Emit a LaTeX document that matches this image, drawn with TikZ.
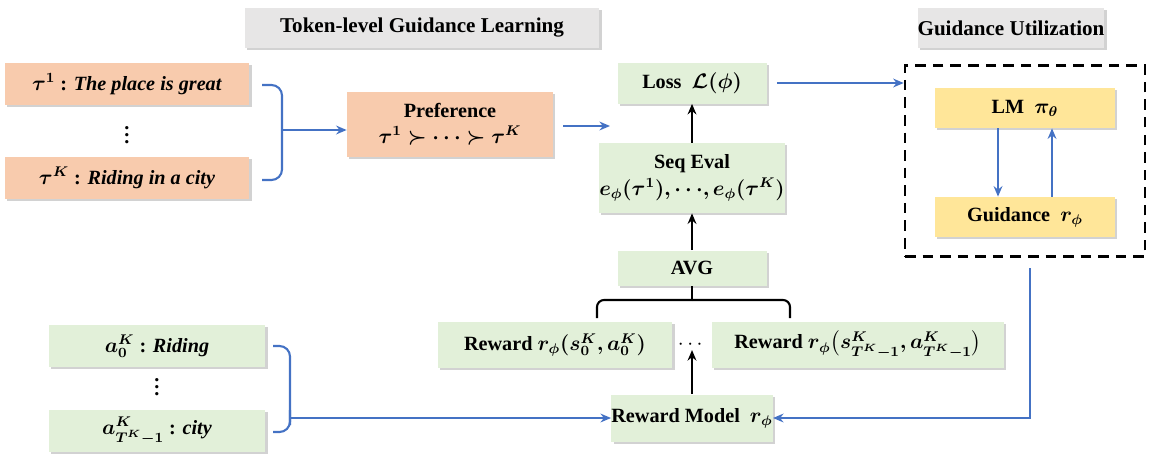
\documentclass[tikz,border=0pt]{standalone}
\usepackage{amsmath}
\usepackage{bm}
\usepackage{fontspec}
\setmainfont{Liberation Serif}
\usetikzlibrary{shadows,arrows.meta}
\definecolor{org}{HTML}{F8CBAD}
\definecolor{grn}{HTML}{E2F0D9}
\definecolor{ylw}{HTML}{FFE699}
\definecolor{gry}{HTML}{E7E6E6}
\definecolor{blu}{HTML}{4472C4}
\begin{document}
\begin{tikzpicture}[x=0.02cm,y=-0.02cm,
  every node/.style={font=\fontsize{11.5}{13}\selectfont\bfseries, inner sep=0pt, align=center},
  box/.style={draw=none, drop shadow={fill=black!35,shadow xshift=1.2pt,shadow yshift=-1.2pt}},
  ob/.style={box, fill=org},
  gb/.style={box, fill=grn},
  yb/.style={box, fill=ylw},
  tb/.style={box, fill=gry, font=\fontsize{12}{14}\selectfont\bfseries},
  bl/.style={blu, line width=1.2pt},
  ba/.style={bl, -{Stealth[length=6pt,width=5pt]}},
  ka/.style={black, line width=1.2pt, -{Stealth[length=6pt,width=5pt]}}]
\useasboundingbox (0,0) rectangle (1151,467);
\node[tb, minimum width=7.1cm, minimum height=0.8cm] (t1) at (422,28) {Token-level Guidance Learning};
\node[tb, minimum width=3.6cm, minimum height=0.8cm] (t2) at (1011,28) {Guidance Utilization};
\node[ob, minimum width=4.9cm, minimum height=0.85cm] (tau1) at (127,84) {$\bm{\tau^1}$ : \textit{The place is great}};
\node (d1) at (127,130) {$\vdots$};
\node[ob, minimum width=4.9cm, minimum height=0.85cm] (tauK) at (127,178) {$\bm{\tau^K}$ : \textit{Riding in a city}};
\node[ob, minimum width=4.12cm, minimum height=1.3cm] (pref) at (450,124) {Preference\\[2pt] $\bm{\tau^1 \succ \cdots \succ \tau^K}$};
\node[gb, minimum width=2.98cm, minimum height=0.82cm] (loss) at (692,83) {Loss\ \ $\bm{\mathcal{L}(\phi)}$};
\node[gb, minimum width=2.98cm, minimum height=1.4cm] (seq) at (692,178) {Seq Eval\\[2pt] $\bm{e_\phi(\tau^1),\cdots,e_\phi(\tau^K)}$};
\node[gb, minimum width=2.98cm, minimum height=0.7cm] (avg) at (692,268) {AVG};
\node[gb, minimum width=4.7cm, minimum height=0.92cm] (r0) at (555,345) {Reward\ $\bm{r_\phi(s_0^K,a_0^K)}$};
\node (d2) at (692,345) {$\cdots$};
\node[gb, minimum width=5.84cm, minimum height=0.92cm] (rT) at (858,345) {Reward\ $\bm{r_\phi\big(s_{T^K-1}^K,a_{T^K-1}^K\big)}$};
\node[gb, minimum width=3.1cm, minimum height=0.94cm] (rm) at (692,418) {Reward Model\ \ $\bm{r_\phi}$};
\node[gb, minimum width=4.34cm, minimum height=0.84cm] (a0) at (157,346) {$\bm{a_0^K}$ : \textit{Riding}};
\node (d3) at (157,382) {$\vdots$};
\node[gb, minimum width=4.34cm, minimum height=0.84cm] (aT) at (157,431) {$\bm{a_{T^K-1}^K}$ : \textit{city}};
\node[draw, dashed, line width=1.5pt, dash pattern=on 6pt off 4pt, minimum width=4.8cm, minimum height=3.82cm] (dash) at (1025,161) {};
\node[yb, minimum width=3.6cm, minimum height=0.8cm] (lm) at (1025,108) {LM\ \ $\bm{\pi_\theta}$};
\node[yb, minimum width=3.6cm, minimum height=0.8cm] (gd) at (1025,217) {Guidance\ \ $\bm{r_\phi}$};
% blue brace top
\coordinate (bt) at (282,130);
\draw[bl, rounded corners=6pt] (262,85) -- (282,85) -- (bt);
\draw[bl, rounded corners=6pt] (262,180) -- (282,180) -- (bt);
\draw[ba] (bt) -- (bt -| pref.west);
\draw[ba] (pref.east) ++(10,2) -- (610,126);
\draw[ka] (seq) -- (loss);
\draw[ka] (avg) -- (seq);
\draw[ka] (rm) -- (d2);
% black brace
\coordinate (kt) at (692,300);
\draw[black, line width=1.2pt, rounded corners=4pt] (597,318) -- (597,300) -- (kt);
\draw[black, line width=1.2pt, rounded corners=4pt] (790,318) -- (790,300) -- (kt);
\draw[black, line width=1.2pt] (kt) -- (avg);
% bottom blue brace
\coordinate (bb) at (290,418);
\draw[bl, rounded corners=6pt] (273,346) -- (290,346) -- (290,425);
\draw[bl, rounded corners=6pt] (273,432) -- (290,432) -- (290,410);
\draw[ba] (bb) -- (rm.west);
\draw[ba] (loss.east) ++(10,0) -- (dash.west |- loss.east);
\draw[ba] (lm.south -| 998,0) -- (gd.north -| 998,0);
\draw[ba] (gd.north -| 1052,0) -- (lm.south -| 1052,0);
\draw[ba] (1030,268) -- (1030,418) -- (rm.east);
\end{tikzpicture}
\end{document}
